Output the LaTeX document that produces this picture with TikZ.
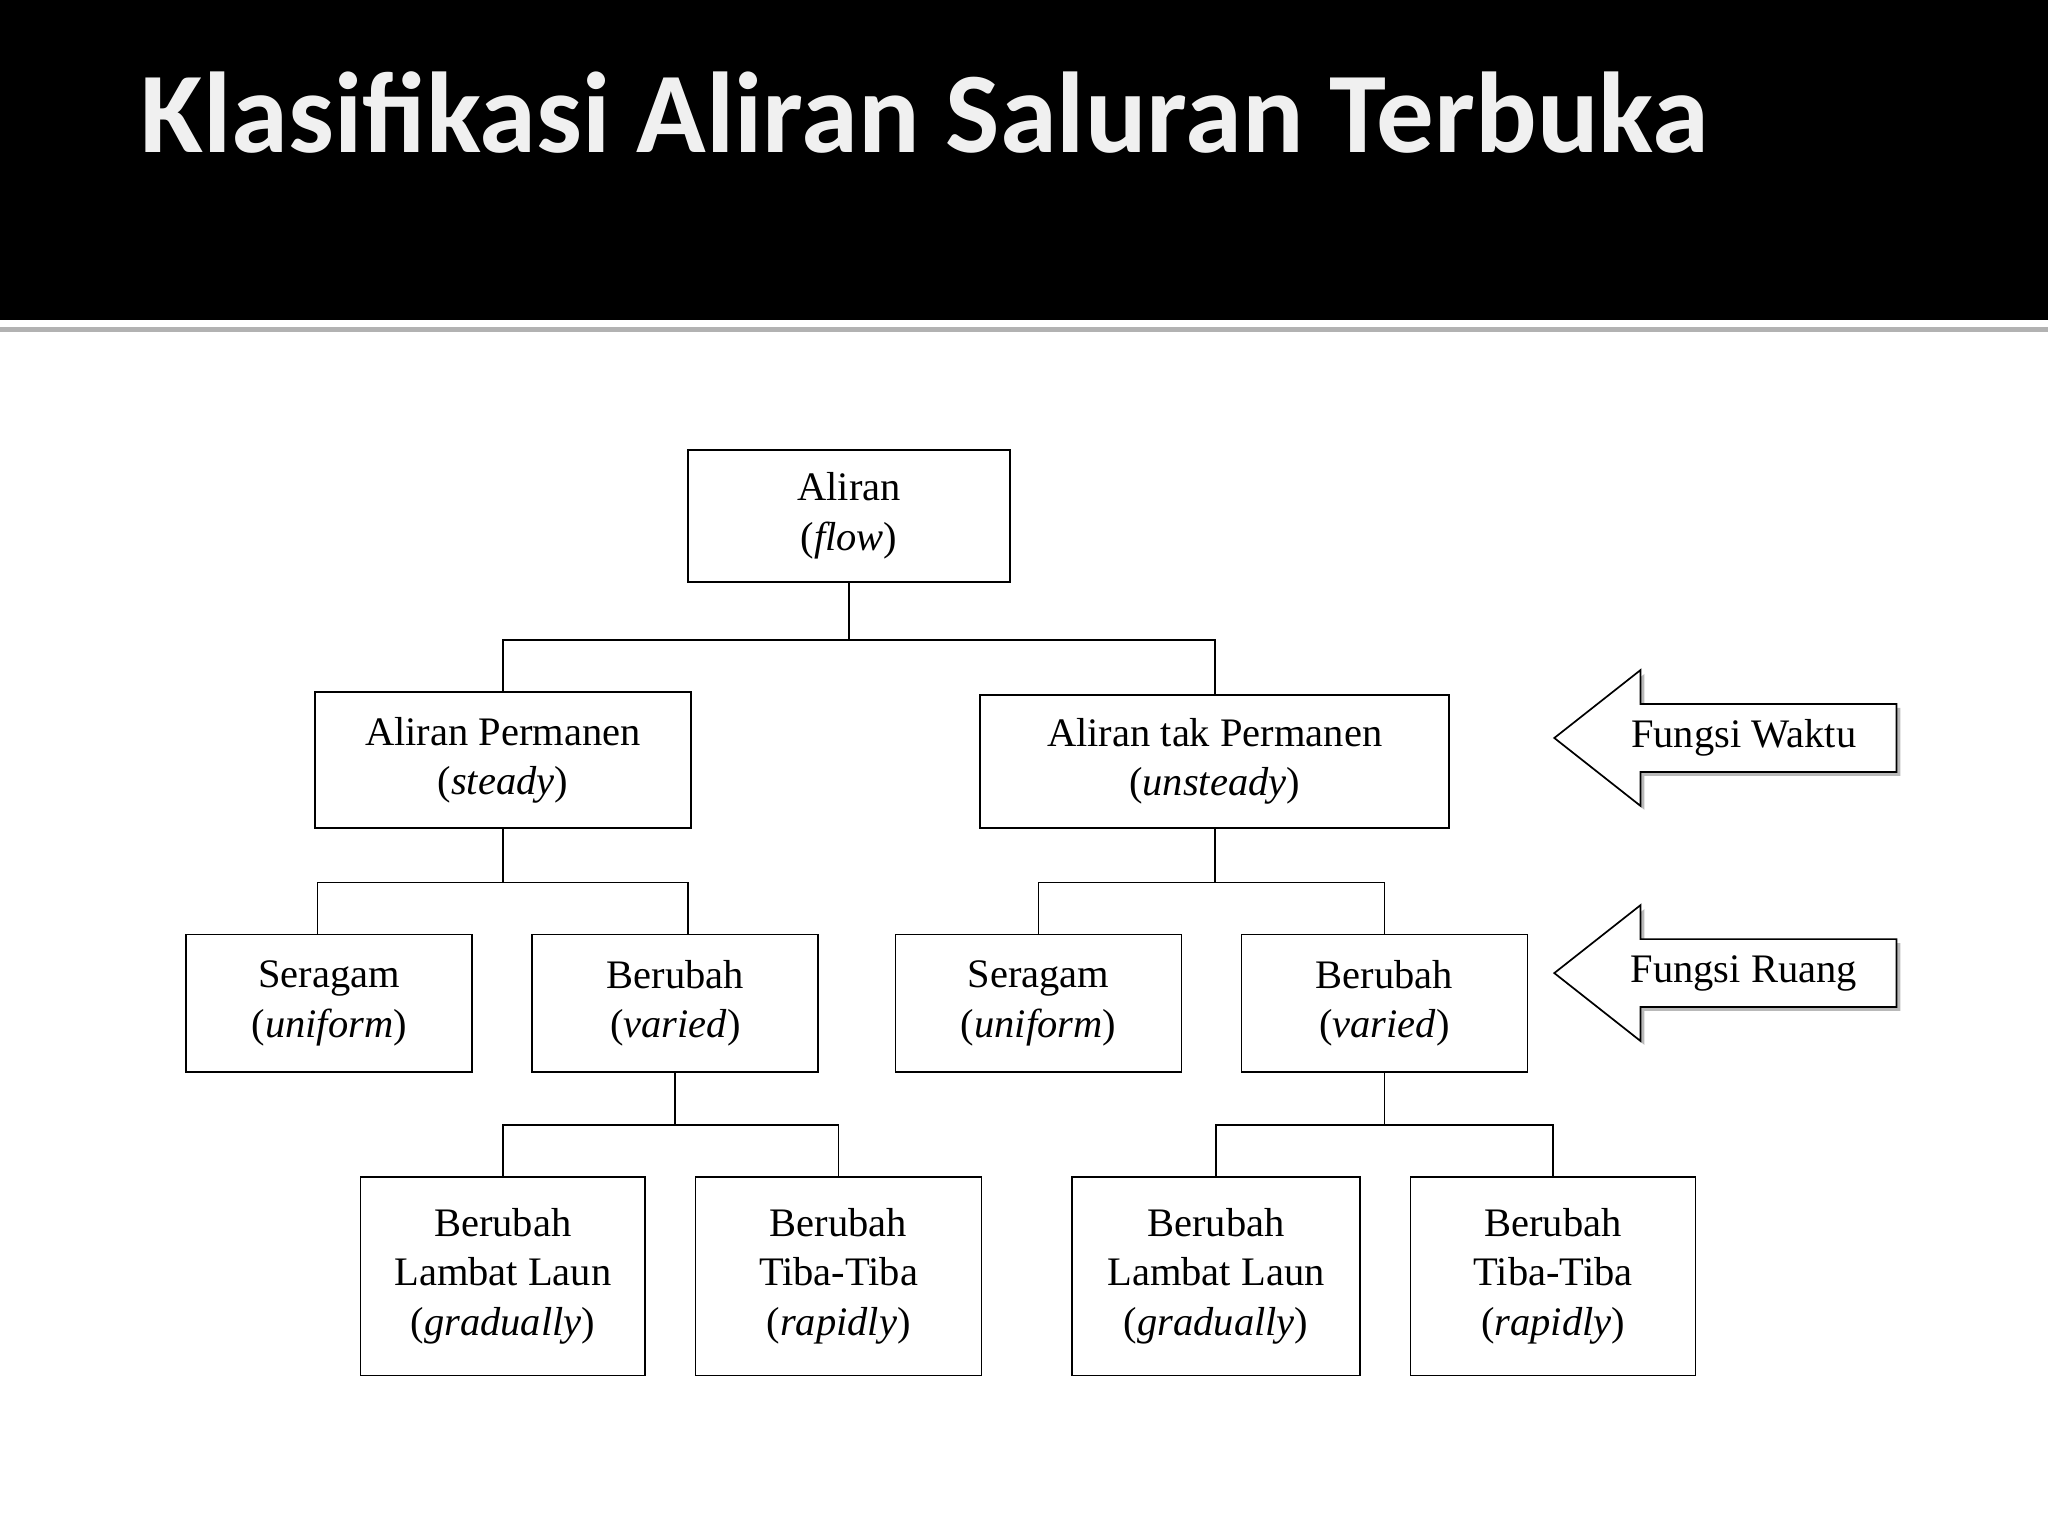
\documentclass[tikz,border=0pt]{standalone}
\usepackage{fontspec}
\setmainfont{Liberation Serif}
\newfontfamily\titlefont{Carlito}
\begin{document}
\begin{tikzpicture}[x=1pt,y=-1pt,
  box/.style={draw,line width=1.3pt,fill=white,align=center,font=\fontsize{31}{38}\selectfont,inner sep=0pt},
  conn/.style={line width=1.3pt},
  blk/.style={draw,line width=1.3pt,fill=white}]
\useasboundingbox (0,0) rectangle (1568,1176);
\fill[black] (0,0) rectangle (1568,245);
\fill[gray!60] (0,250) rectangle (1568,254);
\node[anchor=west,text=gray!12,font=\titlefont\bfseries\fontsize{88}{100}\selectfont] (title) at (104,86) {Klasifikasi Aliran Saluran Terbuka};
\node[box,minimum width=247,minimum height=101] (a) at (650,395) {Aliran\\(\textit{flow})};
\node[box,minimum width=288,minimum height=104] (p) at (385,582) {Aliran Permanen\\(\textit{steady})};
\node[box,minimum width=359,minimum height=102] (u) at (930,583) {Aliran tak Permanen\\(\textit{unsteady})};
\node[box,minimum width=219,minimum height=105] (s1) at (252,768) {Seragam\\(\textit{uniform})};
\node[box,minimum width=219,minimum height=105] (b1) at (517,768) {Berubah\\(\textit{varied})};
\node[box,minimum width=219,minimum height=105] (s2) at (795,768) {Seragam\\(\textit{uniform})};
\node[box,minimum width=219,minimum height=105] (b2) at (1060,768) {Berubah\\(\textit{varied})};
\node[box,minimum width=218,minimum height=152] (g1) at (385,977) {Berubah\\Lambat Laun\\(\textit{gradually})};
\node[box,minimum width=219,minimum height=152] (r1) at (642,977) {Berubah\\Tiba-Tiba\\(\textit{rapidly})};
\node[box,minimum width=220,minimum height=152] (g2) at (931,977) {Berubah\\Lambat Laun\\(\textit{gradually})};
\node[box,minimum width=218,minimum height=152] (r2) at (1189,977) {Berubah\\Tiba-Tiba\\(\textit{rapidly})};
\draw[conn] (a.south) -- ++(0,44) -| (p.north);
\draw[conn] (a.south) ++(0,44) -| (u.north);
\draw[conn] (p.south) -- ++(0,41) -| ([xshift=-9pt]s1.north);
\draw[conn] (p.south) ++(0,41) -| ([xshift=10pt]b1.north);
\draw[conn] (u.south) -- ++(0,41) -| (s2.north);
\draw[conn] (u.south) ++(0,41) -| (b2.north);
\draw[conn] (b1.south) -- ++(0,40) -| (g1.north);
\draw[conn] (b1.south) ++(0,40) -| (r1.north);
\draw[conn] (b2.south) -- ++(0,40) -| (g2.north);
\draw[conn] (b2.south) ++(0,40) -| (r2.north);
\foreach \y/\t/\n in {565/Fungsi Waktu/fw,745/Fungsi Ruang/fr}{
  \fill[gray!55] (1193,\y+3) -- (1259,\y-49) -- (1259,\y-23) -- (1455,\y-23) -- (1455,\y+29) -- (1259,\y+29) -- (1259,\y+55) -- cycle;
  \draw[blk] (1190,\y) -- (1256,\y-52) -- (1256,\y-26) -- (1452,\y-26) -- (1452,\y+26) -- (1256,\y+26) -- (1256,\y+52) -- cycle;
  \node[font=\fontsize{31}{38}\selectfont] (\n) at (1335,\y) {\t};
}
\end{tikzpicture}
\end{document}
